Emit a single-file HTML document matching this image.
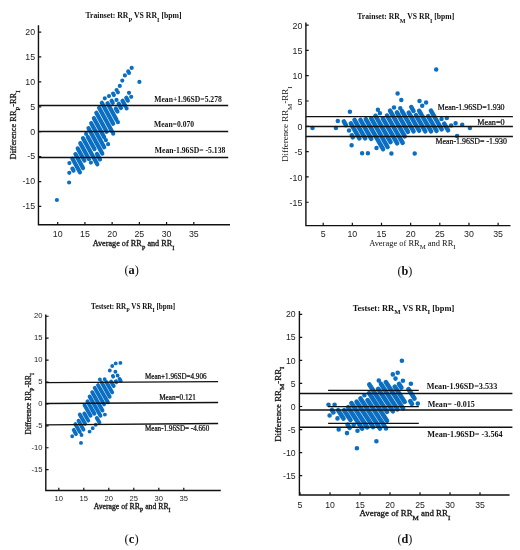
<!DOCTYPE html>
<html><head><meta charset="utf-8"><title>Bland-Altman plots</title>
<style>html,body{margin:0;padding:0;background:#fff;width:520px;height:550px;overflow:hidden}svg{display:block}</style>
</head><body>
<svg width="520" height="550" viewBox="0 0 520 550"><rect width="520" height="550" fill="#fff"/><path d="M72.4 168.6L73.5 170.6M72.4 158.6L79.9 172.3M75.4 154.1L83.0 168.1M77.7 148.4L84.4 160.6M80.3 143.2L88.9 158.9M83.0 138.2L97.3 164.3M87.8 137.0L94.5 149.1M97.0 153.9L100.0 159.4M88.5 128.2L102.3 153.6M91.2 123.2L104.2 147.2M93.9 118.2L104.2 137.2M96.3 112.8L106.7 131.7M99.1 107.8L111.9 131.2M101.8 102.8L113.2 123.7M107.5 103.3L116.5 119.7M111.6 100.8L112.7 102.8M115.8 108.5L117.5 111.5M118.7 103.8L121.0 108.0M122.5 100.8L125.2 105.8M126.3 97.8L127.8 100.6M56.9 200.0h0M69.1 182.5h0M69.3 172.8h0M69.4 163.1h0M90.9 162.6h0M86.1 133.9h0M105.9 140.2h0M108.1 144.2h0M113.2 133.7h0M104.8 98.3h0M117.9 122.2h0M109.0 96.1h0M113.1 93.6h0M113.9 95.1h0M116.5 99.9h0M116.6 90.1h0M117.9 92.3h0M126.6 108.4h0M119.8 85.9h0M122.3 80.6h0M129.0 92.8h0M131.2 96.8h0M124.9 75.4h0M128.2 71.4h0M129.0 72.9h0M131.7 67.9h0M139.4 81.9h0" fill="none" stroke="#0a6fc2" stroke-width="4.2" stroke-linecap="round"/><path d="M343.8 121.4L345.9 125.2M351.8 135.3L352.9 137.3M350.8 123.4L359.4 138.3M354.5 119.9L365.2 138.3M360.4 119.9L371.3 138.9M365.8 119.1L383.1 149.2M371.2 118.4L387.6 147.0M375.5 115.8L390.6 142.1M382.8 118.3L397.2 143.4M387.0 115.5L402.7 142.8M390.0 110.7L404.8 136.3M396.9 112.4L408.0 131.8M402.0 111.1L413.6 131.3M408.7 112.6L419.1 130.7M411.3 107.0L413.5 111.0M415.9 115.1L425.3 131.4M419.2 110.8L421.3 114.3M422.3 116.1L431.1 131.4M428.1 116.1L436.6 130.9M430.9 110.7L441.7 129.4M444.2 123.7L448.1 130.4M312.5 127.9h0M335.9 128.1h0M337.8 121.1h0M351.6 145.2h0M349.0 130.5h0M362.1 153.2h0M367.9 153.2h0M349.9 111.8h0M376.5 148.0h0M391.4 153.5h0M377.9 109.8h0M379.9 113.3h0M414.7 153.5h0M394.0 107.5h0M400.3 108.2h0M397.6 93.4h0M401.3 99.9h0M419.5 101.0h0M422.2 105.8h0M426.1 102.4h0M441.5 119.0h0M446.8 118.0h0M451.1 125.5h0M457.1 136.1h0M455.6 123.3h0M462.2 124.7h0M436.2 69.4h0M469.9 127.9h0" fill="none" stroke="#0a6fc2" stroke-width="4.5" stroke-linecap="round"/><path d="M73.7 429.9L76.0 434.1M75.3 424.1L79.8 431.9M78.5 420.8L83.5 429.6M79.8 414.5L85.2 423.9M84.3 413.5L88.3 420.6M84.5 405.1L90.6 415.8M87.4 401.4L94.4 413.7M96.8 418.0L99.4 422.4M89.6 396.5L100.5 415.7M92.2 392.2L102.5 410.5M94.7 387.9L104.1 404.4M98.0 385.1L107.9 402.3M101.7 382.6L109.7 396.8M106.3 382.0L112.2 392.4M111.0 381.6L113.7 386.1M112.9 376.0L113.2 376.6M115.9 381.2L116.4 382.2M119.6 379.0L120.7 380.9M72.2 436.2h0M81.0 442.9h0M81.5 435.0h0M89.6 431.6h0M92.7 428.2h0M95.7 424.8h0M104.9 414.6h0M99.9 379.5h0M104.7 379.2h0M109.8 370.5h0M112.2 366.0h0M115.4 371.7h0M117.6 375.5h0M115.7 363.4h0M120.4 362.9h0" fill="none" stroke="#0a6fc2" stroke-width="3.9" stroke-linecap="round"/><path d="M331.9 409.9L333.5 412.4M338.1 410.2L343.5 418.5M347.6 424.8L349.7 427.9M344.1 410.2L350.5 420.0M348.1 407.2L362.2 428.7M351.4 403.1L367.3 427.4M356.6 401.7L373.1 427.1M360.5 398.5L380.0 428.5M367.5 400.1L384.6 426.3M369.0 393.1L387.0 420.8M369.3 384.4L387.1 411.8M378.1 388.8L392.9 411.3M381.0 383.9L397.5 409.3M385.8 382.1L403.1 408.6M394.7 386.6L404.7 401.9M399.0 383.9L401.4 387.6M410.2 401.1L412.0 403.9M408.4 389.1L414.5 398.5M329.6 415.5h0M338.7 429.5h0M328.5 404.7h0M337.5 418.4h0M347.0 433.1h0M356.9 448.2h0M334.6 404.8h0M353.7 424.9h0M357.5 430.7h0M376.4 441.3h0M364.4 395.3h0M386.0 428.4h0M378.8 380.5h0M392.8 374.4h0M395.5 378.6h0M397.7 372.8h0M402.9 380.7h0M417.8 403.6h0M410.9 383.8h0M401.9 360.8h0" fill="none" stroke="#0a6fc2" stroke-width="4.6" stroke-linecap="round"/><path d="M38.45 25.20V224.75H230.00" fill="none" stroke="#111" stroke-width="1.4"/><path d="M38.45 206.44h2.8 M38.45 181.53h2.8 M38.45 156.61h2.8 M38.45 131.70h2.8 M38.45 106.78h2.8 M38.45 81.87h2.8 M38.45 56.95h2.8 M38.45 32.04h2.8 M57.70 224.75v-2.8 M84.92 224.75v-2.8 M112.14 224.75v-2.8 M139.36 224.75v-2.8 M166.58 224.75v-2.8 M193.80 224.75v-2.8" stroke="#111" stroke-width="1.2"/><text x="35.15" y="209.31" text-anchor="end" font-family='"Liberation Sans", Arial, sans-serif' font-size="8.8" fill="#222">-15</text><text x="35.15" y="184.40" text-anchor="end" font-family='"Liberation Sans", Arial, sans-serif' font-size="8.8" fill="#222">-10</text><text x="35.15" y="159.48" text-anchor="end" font-family='"Liberation Sans", Arial, sans-serif' font-size="8.8" fill="#222">-5</text><text x="35.15" y="134.57" text-anchor="end" font-family='"Liberation Sans", Arial, sans-serif' font-size="8.8" fill="#222">0</text><text x="35.15" y="109.65" text-anchor="end" font-family='"Liberation Sans", Arial, sans-serif' font-size="8.8" fill="#222">5</text><text x="35.15" y="84.74" text-anchor="end" font-family='"Liberation Sans", Arial, sans-serif' font-size="8.8" fill="#222">10</text><text x="35.15" y="59.82" text-anchor="end" font-family='"Liberation Sans", Arial, sans-serif' font-size="8.8" fill="#222">15</text><text x="35.15" y="34.91" text-anchor="end" font-family='"Liberation Sans", Arial, sans-serif' font-size="8.8" fill="#222">20</text><text x="57.70" y="236.55" text-anchor="middle" font-family='"Liberation Sans", Arial, sans-serif' font-size="8.8" fill="#222">10</text><text x="84.92" y="236.55" text-anchor="middle" font-family='"Liberation Sans", Arial, sans-serif' font-size="8.8" fill="#222">15</text><text x="112.14" y="236.55" text-anchor="middle" font-family='"Liberation Sans", Arial, sans-serif' font-size="8.8" fill="#222">20</text><text x="139.36" y="236.55" text-anchor="middle" font-family='"Liberation Sans", Arial, sans-serif' font-size="8.8" fill="#222">25</text><text x="166.58" y="236.55" text-anchor="middle" font-family='"Liberation Sans", Arial, sans-serif' font-size="8.8" fill="#222">30</text><text x="193.80" y="236.55" text-anchor="middle" font-family='"Liberation Sans", Arial, sans-serif' font-size="8.8" fill="#222">35</text><path d="M305.90 22.50V225.60H510.50" fill="none" stroke="#111" stroke-width="1.4"/><path d="M305.90 202.25h2.8 M305.90 176.93h2.8 M305.90 151.62h2.8 M305.90 126.30h2.8 M305.90 100.98h2.8 M305.90 75.67h2.8 M305.90 50.36h2.8 M305.90 25.04h2.8 M323.20 225.60v-2.8 M352.35 225.60v-2.8 M381.50 225.60v-2.8 M410.65 225.60v-2.8 M439.80 225.60v-2.8 M468.95 225.60v-2.8 M498.10 225.60v-2.8" stroke="#111" stroke-width="1.2"/><text x="302.30" y="206.01" text-anchor="end" font-family='"Liberation Sans", Arial, sans-serif' font-size="8.8" fill="#222">-15</text><text x="302.30" y="180.70" text-anchor="end" font-family='"Liberation Sans", Arial, sans-serif' font-size="8.8" fill="#222">-10</text><text x="302.30" y="155.38" text-anchor="end" font-family='"Liberation Sans", Arial, sans-serif' font-size="8.8" fill="#222">-5</text><text x="302.30" y="130.07" text-anchor="end" font-family='"Liberation Sans", Arial, sans-serif' font-size="8.8" fill="#222">0</text><text x="302.30" y="104.75" text-anchor="end" font-family='"Liberation Sans", Arial, sans-serif' font-size="8.8" fill="#222">5</text><text x="302.30" y="79.44" text-anchor="end" font-family='"Liberation Sans", Arial, sans-serif' font-size="8.8" fill="#222">10</text><text x="302.30" y="54.12" text-anchor="end" font-family='"Liberation Sans", Arial, sans-serif' font-size="8.8" fill="#222">15</text><text x="302.30" y="28.81" text-anchor="end" font-family='"Liberation Sans", Arial, sans-serif' font-size="8.8" fill="#222">20</text><text x="323.20" y="236.90" text-anchor="middle" font-family='"Liberation Sans", Arial, sans-serif' font-size="8.8" fill="#222">5</text><text x="352.35" y="236.90" text-anchor="middle" font-family='"Liberation Sans", Arial, sans-serif' font-size="8.8" fill="#222">10</text><text x="381.50" y="236.90" text-anchor="middle" font-family='"Liberation Sans", Arial, sans-serif' font-size="8.8" fill="#222">15</text><text x="410.65" y="236.90" text-anchor="middle" font-family='"Liberation Sans", Arial, sans-serif' font-size="8.8" fill="#222">20</text><text x="439.80" y="236.90" text-anchor="middle" font-family='"Liberation Sans", Arial, sans-serif' font-size="8.8" fill="#222">25</text><text x="468.95" y="236.90" text-anchor="middle" font-family='"Liberation Sans", Arial, sans-serif' font-size="8.8" fill="#222">30</text><text x="498.10" y="236.90" text-anchor="middle" font-family='"Liberation Sans", Arial, sans-serif' font-size="8.8" fill="#222">35</text><path d="M45.80 314.60V490.50H220.80" fill="none" stroke="#111" stroke-width="1.4"/><path d="M45.80 469.64h2.8 M45.80 447.73h2.8 M45.80 425.81h2.8 M45.80 403.90h2.8 M45.80 381.98h2.8 M45.80 360.07h2.8 M45.80 338.15h2.8 M45.80 316.24h2.8 M58.80 490.50v-2.8 M83.80 490.50v-2.8 M108.80 490.50v-2.8 M133.80 490.50v-2.8 M158.80 490.50v-2.8 M183.80 490.50v-2.8" stroke="#111" stroke-width="1.2"/><text x="42.40" y="471.78" text-anchor="end" font-family='"Liberation Sans", Arial, sans-serif' font-size="7.6" fill="#222">-15</text><text x="42.40" y="449.87" text-anchor="end" font-family='"Liberation Sans", Arial, sans-serif' font-size="7.6" fill="#222">-10</text><text x="42.40" y="427.95" text-anchor="end" font-family='"Liberation Sans", Arial, sans-serif' font-size="7.6" fill="#222">-5</text><text x="42.40" y="406.04" text-anchor="end" font-family='"Liberation Sans", Arial, sans-serif' font-size="7.6" fill="#222">0</text><text x="42.40" y="384.12" text-anchor="end" font-family='"Liberation Sans", Arial, sans-serif' font-size="7.6" fill="#222">5</text><text x="42.40" y="362.21" text-anchor="end" font-family='"Liberation Sans", Arial, sans-serif' font-size="7.6" fill="#222">10</text><text x="42.40" y="340.29" text-anchor="end" font-family='"Liberation Sans", Arial, sans-serif' font-size="7.6" fill="#222">15</text><text x="42.40" y="318.38" text-anchor="end" font-family='"Liberation Sans", Arial, sans-serif' font-size="7.6" fill="#222">20</text><text x="58.80" y="501.10" text-anchor="middle" font-family='"Liberation Sans", Arial, sans-serif' font-size="7.6" fill="#222">10</text><text x="83.80" y="501.10" text-anchor="middle" font-family='"Liberation Sans", Arial, sans-serif' font-size="7.6" fill="#222">15</text><text x="108.80" y="501.10" text-anchor="middle" font-family='"Liberation Sans", Arial, sans-serif' font-size="7.6" fill="#222">20</text><text x="133.80" y="501.10" text-anchor="middle" font-family='"Liberation Sans", Arial, sans-serif' font-size="7.6" fill="#222">25</text><text x="158.80" y="501.10" text-anchor="middle" font-family='"Liberation Sans", Arial, sans-serif' font-size="7.6" fill="#222">30</text><text x="183.80" y="501.10" text-anchor="middle" font-family='"Liberation Sans", Arial, sans-serif' font-size="7.6" fill="#222">35</text><path d="M299.40 311.10V495.00H509.60" fill="none" stroke="#111" stroke-width="1.4"/><path d="M299.40 475.65h2.8 M299.40 452.60h2.8 M299.40 429.55h2.8 M299.40 406.50h2.8 M299.40 383.45h2.8 M299.40 360.40h2.8 M299.40 337.35h2.8 M299.40 314.30h2.8 M300.00 495.00v-2.8 M330.00 495.00v-2.8 M360.00 495.00v-2.8 M390.00 495.00v-2.8 M420.00 495.00v-2.8 M450.00 495.00v-2.8 M480.00 495.00v-2.8" stroke="#111" stroke-width="1.2"/><text x="295.60" y="478.78" text-anchor="end" font-family='"Liberation Sans", Arial, sans-serif' font-size="8.7" fill="#222">-15</text><text x="295.60" y="455.73" text-anchor="end" font-family='"Liberation Sans", Arial, sans-serif' font-size="8.7" fill="#222">-10</text><text x="295.60" y="432.68" text-anchor="end" font-family='"Liberation Sans", Arial, sans-serif' font-size="8.7" fill="#222">-5</text><text x="295.60" y="409.63" text-anchor="end" font-family='"Liberation Sans", Arial, sans-serif' font-size="8.7" fill="#222">0</text><text x="295.60" y="386.58" text-anchor="end" font-family='"Liberation Sans", Arial, sans-serif' font-size="8.7" fill="#222">5</text><text x="295.60" y="363.53" text-anchor="end" font-family='"Liberation Sans", Arial, sans-serif' font-size="8.7" fill="#222">10</text><text x="295.60" y="340.48" text-anchor="end" font-family='"Liberation Sans", Arial, sans-serif' font-size="8.7" fill="#222">15</text><text x="295.60" y="317.43" text-anchor="end" font-family='"Liberation Sans", Arial, sans-serif' font-size="8.7" fill="#222">20</text><text x="300.00" y="508.20" text-anchor="middle" font-family='"Liberation Sans", Arial, sans-serif' font-size="8.7" fill="#222">5</text><text x="330.00" y="508.20" text-anchor="middle" font-family='"Liberation Sans", Arial, sans-serif' font-size="8.7" fill="#222">10</text><text x="360.00" y="508.20" text-anchor="middle" font-family='"Liberation Sans", Arial, sans-serif' font-size="8.7" fill="#222">15</text><text x="390.00" y="508.20" text-anchor="middle" font-family='"Liberation Sans", Arial, sans-serif' font-size="8.7" fill="#222">20</text><text x="420.00" y="508.20" text-anchor="middle" font-family='"Liberation Sans", Arial, sans-serif' font-size="8.7" fill="#222">25</text><text x="450.00" y="508.20" text-anchor="middle" font-family='"Liberation Sans", Arial, sans-serif' font-size="8.7" fill="#222">30</text><text x="480.00" y="508.20" text-anchor="middle" font-family='"Liberation Sans", Arial, sans-serif' font-size="8.7" fill="#222">35</text><path d="M38.45 105.50H228.20" stroke="#111" stroke-width="1.4"/><path d="M38.45 131.50H228.20" stroke="#111" stroke-width="1.4"/><path d="M38.45 157.50H228.20" stroke="#111" stroke-width="1.4"/><text x="154.30" y="102.10" font-family='"Liberation Serif", "Times New Roman", serif' font-size="7.6" font-weight="bold" textLength="67.50" lengthAdjust="spacingAndGlyphs" fill="#111">Mean+1.96SD=5.278</text><text x="154.00" y="127.20" font-family='"Liberation Serif", "Times New Roman", serif' font-size="7.6" font-weight="bold" textLength="40.10" lengthAdjust="spacingAndGlyphs" fill="#111">Mean=0.070</text><text x="154.80" y="153.20" font-family='"Liberation Serif", "Times New Roman", serif' font-size="7.6" font-weight="bold" textLength="70.50" lengthAdjust="spacingAndGlyphs" fill="#111">Mean-1.96SD= -5.138</text><text x="85.40" y="18.40" font-family='"Liberation Serif", "Times New Roman", serif' font-size="8.0" font-weight="bold" textLength="96.20" lengthAdjust="spacingAndGlyphs" fill="#111"><tspan>Trainset: RR</tspan><tspan dy="3.36" font-size="6.40">P</tspan><tspan dy="-3.36"> VS RR</tspan><tspan dy="3.36" font-size="6.40">I</tspan><tspan dy="-3.36"> [bpm]</tspan></text><text x="92.70" y="246.30" font-family='"Liberation Serif", "Times New Roman", serif' font-size="8.0" textLength="81.70" lengthAdjust="spacingAndGlyphs" fill="#111" stroke="#111" stroke-width="0.28"><tspan>Average of RR</tspan><tspan dy="3.36" font-size="6.40">P</tspan><tspan dy="-3.36"> and RR</tspan><tspan dy="3.36" font-size="6.40">I</tspan></text><text transform="translate(16.40 159.40) rotate(-90)" x="0" y="0" font-family='"Liberation Serif", "Times New Roman", serif' font-size="8.0" textLength="68.80" lengthAdjust="spacingAndGlyphs" fill="#111" stroke="#111" stroke-width="0.28"><tspan>Difference RR</tspan><tspan dy="3.36" font-size="6.40">P</tspan><tspan dy="-3.36">-RR</tspan><tspan dy="3.36" font-size="6.40">I</tspan></text><text x="124.40" y="274.00" font-family='"Liberation Serif", "Times New Roman", serif' font-size="13.3" textLength="14.40" lengthAdjust="spacingAndGlyphs" fill="#111">(<tspan font-weight="bold">a</tspan>)</text><path d="M305.90 116.60H512.90" stroke="#111" stroke-width="1.4"/><path d="M305.90 126.45H512.90" stroke="#111" stroke-width="1.4"/><path d="M305.90 136.45H512.90" stroke="#111" stroke-width="1.4"/><text x="437.70" y="110.00" font-family='"Liberation Serif", "Times New Roman", serif' font-size="8.0" textLength="66.90" lengthAdjust="spacingAndGlyphs" fill="#111" stroke="#000" stroke-width="0.22">Mean-1.96SD=1.930</text><text x="477.30" y="125.00" font-family='"Liberation Serif", "Times New Roman", serif' font-size="8.0" textLength="27.30" lengthAdjust="spacingAndGlyphs" fill="#111" stroke="#000" stroke-width="0.22">Mean=0</text><text x="435.40" y="143.80" font-family='"Liberation Serif", "Times New Roman", serif' font-size="8.0" textLength="71.50" lengthAdjust="spacingAndGlyphs" fill="#111" stroke="#000" stroke-width="0.22">Mean-1.96SD= -1.930</text><text x="357.30" y="19.30" font-family='"Liberation Serif", "Times New Roman", serif' font-size="8.0" font-weight="bold" textLength="96.90" lengthAdjust="spacingAndGlyphs" fill="#111"><tspan>Trainset: RR</tspan><tspan dy="3.36" font-size="6.40">M</tspan><tspan dy="-3.36"> VS RR</tspan><tspan dy="3.36" font-size="6.40">I</tspan><tspan dy="-3.36"> [bpm]</tspan></text><text x="369.20" y="245.80" font-family='"Liberation Serif", "Times New Roman", serif' font-size="8.0" textLength="86.40" lengthAdjust="spacingAndGlyphs" fill="#111"><tspan>Average of RR</tspan><tspan dy="3.36" font-size="6.40">M</tspan><tspan dy="-3.36"> and RR</tspan><tspan dy="3.36" font-size="6.40">I</tspan></text><text transform="translate(288.20 161.80) rotate(-90)" x="0" y="0" font-family='"Liberation Serif", "Times New Roman", serif' font-size="8.0" textLength="75.40" lengthAdjust="spacingAndGlyphs" fill="#111"><tspan>Difference RR</tspan><tspan dy="3.36" font-size="6.40">M</tspan><tspan dy="-3.36">-RR</tspan><tspan dy="3.36" font-size="6.40">I</tspan></text><text x="397.40" y="274.50" font-family='"Liberation Serif", "Times New Roman", serif' font-size="13.3" textLength="14.90" lengthAdjust="spacingAndGlyphs" fill="#111">(<tspan font-weight="bold">b</tspan>)</text><path d="M45.80 382.64L218.1 381.65" stroke="#111" stroke-width="1.4"/><path d="M45.80 403.44L218.1 402.55" stroke="#111" stroke-width="1.4"/><path d="M45.80 424.83L218.1 423.45" stroke="#111" stroke-width="1.4"/><text x="145.00" y="378.70" font-family='"Liberation Serif", "Times New Roman", serif' font-size="7.2" textLength="61.50" lengthAdjust="spacingAndGlyphs" fill="#111" stroke="#000" stroke-width="0.22">Mean+1.96SD=4.906</text><text x="159.20" y="400.40" font-family='"Liberation Serif", "Times New Roman", serif' font-size="7.2" textLength="36.60" lengthAdjust="spacingAndGlyphs" fill="#111" stroke="#000" stroke-width="0.22">Mean=0.121</text><text x="145.00" y="430.60" font-family='"Liberation Serif", "Times New Roman", serif' font-size="7.2" textLength="64.20" lengthAdjust="spacingAndGlyphs" fill="#111" stroke="#000" stroke-width="0.22">Mean-1.96SD= -4.660</text><text x="91.10" y="308.80" font-family='"Liberation Serif", "Times New Roman", serif' font-size="7.2" font-weight="bold" textLength="84.00" lengthAdjust="spacingAndGlyphs" fill="#111"><tspan>Testset: RR</tspan><tspan dy="3.02" font-size="5.76">P</tspan><tspan dy="-3.02"> VS RR</tspan><tspan dy="3.02" font-size="5.76">I</tspan><tspan dy="-3.02"> [bpm]</tspan></text><text x="93.70" y="509.20" font-family='"Liberation Serif", "Times New Roman", serif' font-size="7.2" textLength="76.90" lengthAdjust="spacingAndGlyphs" fill="#111" stroke="#111" stroke-width="0.28"><tspan>Average of RR</tspan><tspan dy="3.02" font-size="5.76">P</tspan><tspan dy="-3.02"> and RR</tspan><tspan dy="3.02" font-size="5.76">I</tspan></text><text transform="translate(30.50 434.50) rotate(-90)" x="0" y="0" font-family='"Liberation Serif", "Times New Roman", serif' font-size="7.2" textLength="61.40" lengthAdjust="spacingAndGlyphs" fill="#111" stroke="#111" stroke-width="0.28"><tspan>Difference RR</tspan><tspan dy="3.02" font-size="5.76">P</tspan><tspan dy="-3.02">-RR</tspan><tspan dy="3.02" font-size="5.76">I</tspan></text><text x="124.60" y="543.00" font-family='"Liberation Serif", "Times New Roman", serif' font-size="13.3" textLength="14.10" lengthAdjust="spacingAndGlyphs" fill="#111">(<tspan font-weight="bold">c</tspan>)</text><path d="M299.40 393.45H512.40" stroke="#111" stroke-width="1.4"/><path d="M299.40 410.00H512.40" stroke="#111" stroke-width="1.4"/><path d="M299.40 427.30H512.40" stroke="#111" stroke-width="1.4"/><path d="M328.10 390.35H418.80" stroke="#111" stroke-width="1.2"/><path d="M328.10 406.60H418.80" stroke="#111" stroke-width="1.2"/><path d="M328.10 423.30H418.80" stroke="#111" stroke-width="1.2"/><text x="426.70" y="388.80" font-family='"Liberation Serif", "Times New Roman", serif' font-size="8.0" font-weight="bold" textLength="70.60" lengthAdjust="spacingAndGlyphs" fill="#111">Mean-1.96SD=3.533</text><text x="427.70" y="406.70" font-family='"Liberation Serif", "Times New Roman", serif' font-size="8.0" font-weight="bold" textLength="47.10" lengthAdjust="spacingAndGlyphs" fill="#111">Mean= -0.015</text><text x="427.30" y="436.90" font-family='"Liberation Serif", "Times New Roman", serif' font-size="8.0" font-weight="bold" textLength="75.40" lengthAdjust="spacingAndGlyphs" fill="#111">Mean-1.96SD= -3.564</text><text x="352.70" y="310.70" font-family='"Liberation Serif", "Times New Roman", serif' font-size="8.2" font-weight="bold" textLength="101.50" lengthAdjust="spacingAndGlyphs" fill="#111"><tspan>Testset: RR</tspan><tspan dy="3.44" font-size="6.56">M</tspan><tspan dy="-3.44"> VS RR</tspan><tspan dy="3.44" font-size="6.56">I</tspan><tspan dy="-3.44"> [bpm]</tspan></text><text x="359.60" y="516.20" font-family='"Liberation Serif", "Times New Roman", serif' font-size="8.2" textLength="90.70" lengthAdjust="spacingAndGlyphs" fill="#111" stroke="#111" stroke-width="0.28"><tspan>Average of RR</tspan><tspan dy="3.44" font-size="6.56">M</tspan><tspan dy="-3.44"> and RR</tspan><tspan dy="3.44" font-size="6.56">I</tspan></text><text transform="translate(280.50 441.80) rotate(-90)" x="0" y="0" font-family='"Liberation Serif", "Times New Roman", serif' font-size="8.2" textLength="75.30" lengthAdjust="spacingAndGlyphs" fill="#111" stroke="#111" stroke-width="0.28"><tspan>Difference RR</tspan><tspan dy="3.44" font-size="6.56">M</tspan><tspan dy="-3.44">-RR</tspan><tspan dy="3.44" font-size="6.56">I</tspan></text><text x="397.40" y="543.00" font-family='"Liberation Serif", "Times New Roman", serif' font-size="13.3" textLength="14.90" lengthAdjust="spacingAndGlyphs" fill="#111">(<tspan font-weight="bold">d</tspan>)</text></svg>
</body></html>
